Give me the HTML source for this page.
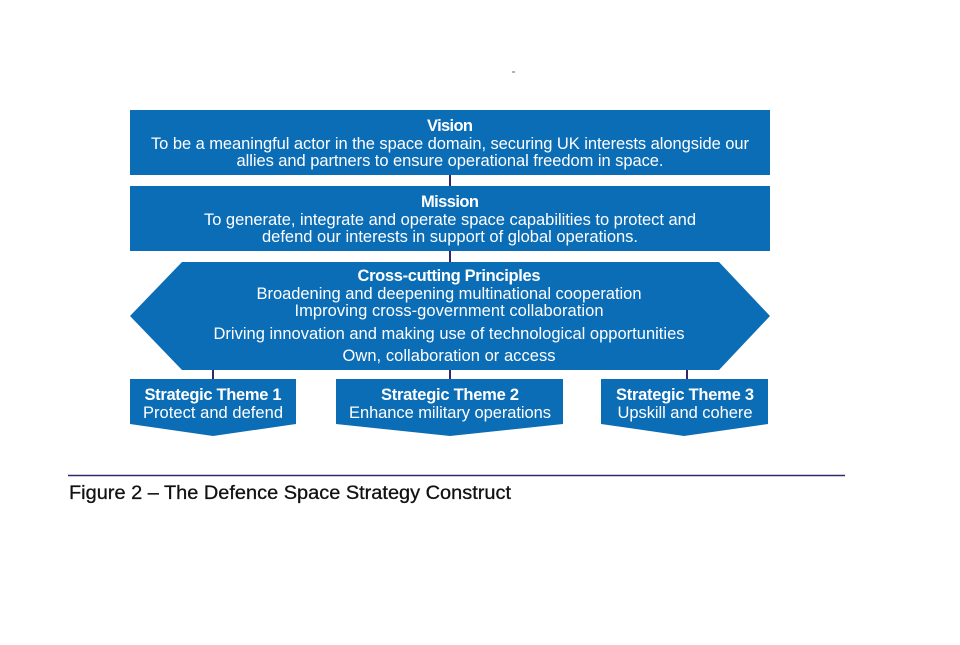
<!DOCTYPE html>
<html><head><meta charset="utf-8"><style>
body{margin:0;background:#fff;}
svg text{font-family:"Liberation Sans",Arial,sans-serif;fill:#fff;text-anchor:middle;}
</style></head><body>
<svg width="960" height="640" viewBox="0 0 960 640" xmlns="http://www.w3.org/2000/svg">
<rect width="960" height="640" fill="#fff"/>
<line x1="512" y1="72" x2="515" y2="72" stroke="#666" stroke-width="1"/>
<g stroke="#2e2a6b" stroke-width="2">
<line x1="450" y1="175" x2="450" y2="186"/>
<line x1="450" y1="251" x2="450" y2="262"/>
<line x1="213" y1="370" x2="213" y2="379"/>
<line x1="450" y1="370" x2="450" y2="379"/>
<line x1="687" y1="370" x2="687" y2="379"/>
</g>
<g fill="#0b6db6">
<rect x="130" y="110" width="640" height="65"/>
<rect x="130" y="186" width="640" height="65"/>
<polygon points="182,262 719,262 770,316 719,370 182,370 130,316"/>
<polygon points="130,379 296,379 296,424 213,436 130,424"/>
<polygon points="336,379 563,379 563,424 450,436 336,424"/>
<polygon points="601,379 768,379 768,424 684,436 601,424"/>
</g>
<g font-size="16.5" lengthAdjust="spacingAndGlyphs">
<text x="450" y="131" font-weight="bold" textLength="46">Vision</text>
<text x="450" y="149" textLength="598">To be a meaningful actor in the space domain, securing UK interests alongside our</text>
<text x="450" y="166" textLength="427">allies and partners to ensure operational freedom in space.</text>
<text x="450" y="207" font-weight="bold" textLength="58">Mission</text>
<text x="450" y="225" textLength="492">To generate, integrate and operate space capabilities to protect and</text>
<text x="450" y="242" textLength="376">defend our interests in support of global operations.</text>
<text x="449" y="281" font-weight="bold" textLength="183">Cross-cutting Principles</text>
<text x="449" y="299" textLength="385">Broadening and deepening multinational cooperation</text>
<text x="449" y="316" textLength="309">Improving cross-government collaboration</text>
<text x="449" y="339" textLength="471">Driving innovation and making use of technological opportunities</text>
<text x="449" y="361" textLength="213">Own, collaboration or access</text>
<text x="213" y="400" font-weight="bold" textLength="137">Strategic Theme 1</text>
<text x="213" y="418" textLength="140">Protect and defend</text>
<text x="450" y="400" font-weight="bold" textLength="138">Strategic Theme 2</text>
<text x="450" y="418" textLength="202">Enhance military operations</text>
<text x="685" y="400" font-weight="bold" textLength="138">Strategic Theme 3</text>
<text x="685" y="418" textLength="135">Upskill and cohere</text>
</g>
<line x1="68" y1="475.5" x2="845" y2="475.5" stroke="#2e2a6b" stroke-width="1.5"/>
<text x="69" y="499" font-size="19.5" textLength="442" lengthAdjust="spacingAndGlyphs" style="fill:#111;text-anchor:start;stroke:#111;stroke-width:0.3">Figure 2 – The Defence Space Strategy Construct</text>
</svg>
</body></html>
